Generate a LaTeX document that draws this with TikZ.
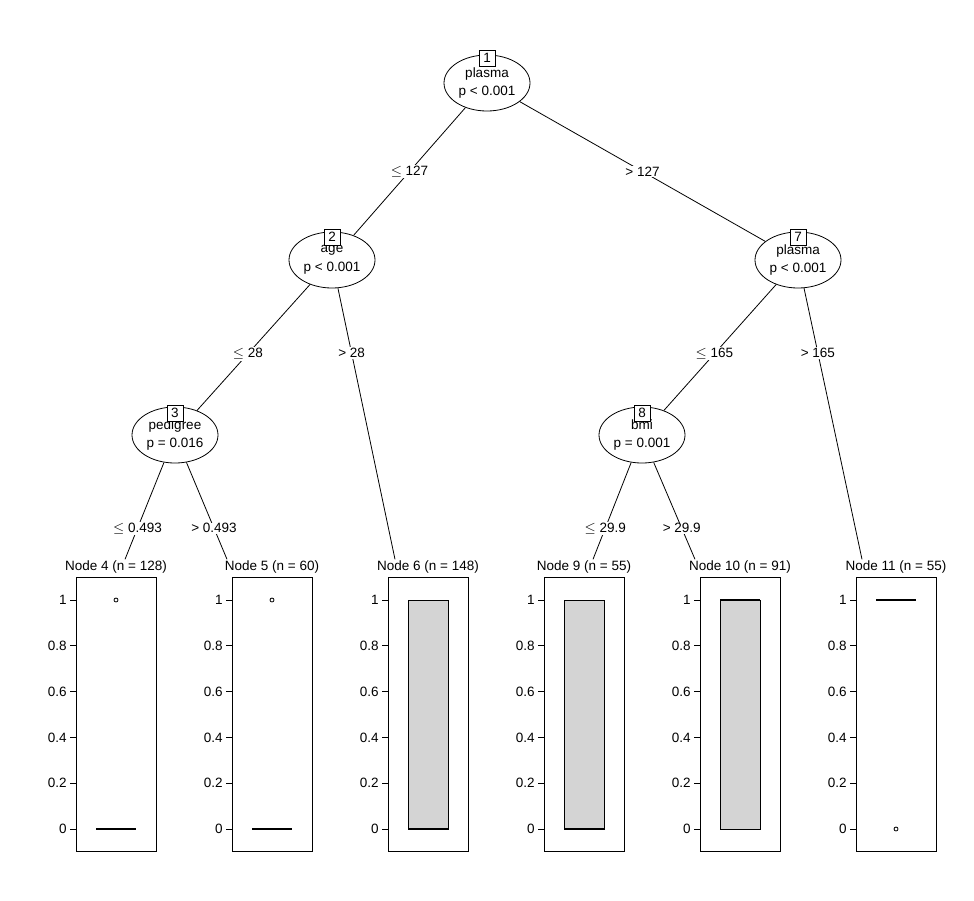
\documentclass[tikz,border=0pt]{standalone}
\usepackage{fontspec}
\setmainfont{Liberation Sans}
\usetikzlibrary{shapes.geometric}
\begin{document}
\begin{tikzpicture}[x=1pt,y=-1pt,font=\fontsize{13.5}{15}\selectfont,line width=0.8pt,
  inner/.style={ellipse,draw,minimum width=86pt,minimum height=56pt,align=center,inner sep=0pt,font=\fontsize{13.5}{18.5}\selectfont,yshift=2pt},
  idx/.style={draw,fill=white,minimum width=16pt,minimum height=16pt,inner sep=0pt},
  lab/.style={fill=white,inner sep=1pt},
  ttl/.style={fill=white,inner sep=1pt},
  gbox/.style={draw,fill=black!17},
  med/.style={line width=1.8pt}]
\useasboundingbox (0,0) rectangle (974,900);
% inner nodes
\node[inner] (n1) at (487,85) {plasma\\p < 0.001};
\node[inner] (n2) at (332,262) {age\\p < 0.001};
\node[inner] (n7) at (798,262) {plasma\\p < 0.001};
\node[inner] (n3) at (175,437) {pedigree\\p = 0.016};
\node[inner] (n8) at (642,437) {bmi\\p = 0.001};
% leaves
\foreach \c/\t/\nm in {116/{Node 4 (n = 128)}/l4,272/{Node 5 (n = 60)}/l5,428/{Node 6 (n = 148)}/l6,584/{Node 9 (n = 55)}/l9,740/{Node 10 (n = 91)}/l10,896/{Node 11 (n = 55)}/l11}{
  \node[ttl] (\nm) at (\c,567) {\t};
  \draw (\c-40,577) rectangle (\c+40,851);
  \foreach \v/\y in {0/829,0.2/783.2,0.4/737.4,0.6/691.6,0.8/645.8,1/600}{
    \draw (\c-40,\y) -- (\c-46,\y);
    \node[anchor=east,inner sep=1pt] at (\c-48,\y) {\v};
  }
}
% edges
\draw (n1) -- node[lab] {$\leq$ 127} (n2);
\draw (n1) -- node[lab] {> 127} (n7);
\draw (n2) -- node[lab,pos=0.55] {$\leq$ 28} (n3);
\draw (n2) -- node[lab,pos=0.24] {> 28} ([xshift=-33pt]l6.north);
\draw (n7) -- node[lab,pos=0.55] {$\leq$ 165} (n8);
\draw (n7) -- node[lab,pos=0.24] {> 165} ([xshift=-34pt]l11.north);
\draw (n3) -- node[lab,pos=0.68] {$\leq$ 0.493} ([xshift=9pt]l4.north);
\draw (n3) -- node[lab,pos=0.68] {> 0.493} ([xshift=-45pt]l5.north);
\draw (n8) -- node[lab,pos=0.68] {$\leq$ 29.9} ([xshift=9pt]l9.north);
\draw (n8) -- node[lab,pos=0.68] {> 29.9} ([xshift=-45pt]l10.north);
% index boxes
\node[idx] at (487,58) {1};
\node[idx] at (332,237) {2};
\node[idx] at (798,237) {7};
\node[idx] at (175,413) {3};
\node[idx] at (642,413) {8};
% boxplots
\draw[med] (96,829) -- (136,829);
\draw (116,600) circle (2pt);
\draw[med] (252,829) -- (292,829);
\draw (272,600) circle (2pt);
\draw[gbox] (408,600) rectangle (448,829); \draw[med] (408,829) -- (448,829);
\draw[gbox] (564,600) rectangle (604,829); \draw[med] (564,829) -- (604,829);
\draw[gbox] (720,600) rectangle (760,829); \draw[med] (720,600) -- (760,600);
\draw[med] (876,600) -- (916,600);
\draw (896,829) circle (2pt);
\end{tikzpicture}
\end{document}
